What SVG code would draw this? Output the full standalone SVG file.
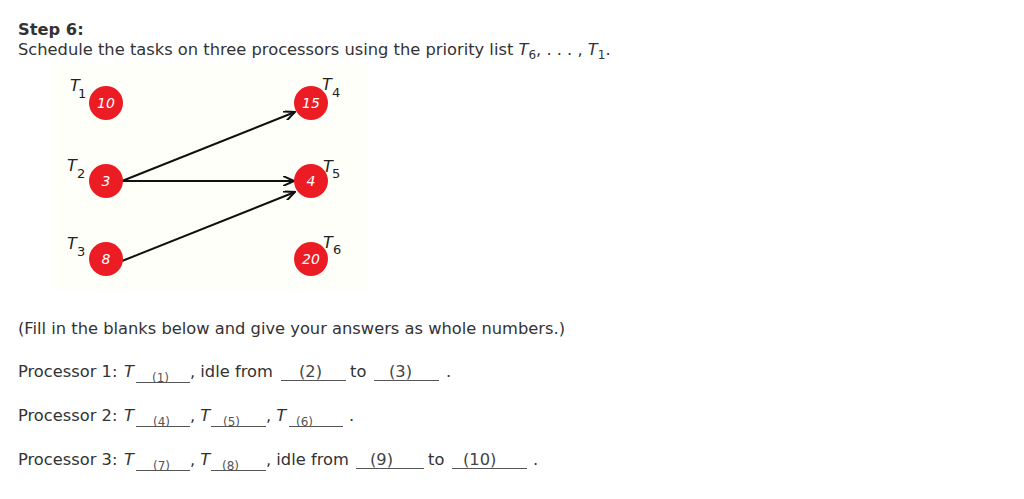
<svg xmlns="http://www.w3.org/2000/svg" width="1024" height="499" viewBox="0 0 1024 499">
<style>
.t{font-family:"DejaVu Sans",Verdana,sans-serif;font-size:16.3px;fill:#333}
.b{font-weight:bold}
.i{font-style:italic}
.sm{font-size:12px;fill:#555}
.bl{font-size:16.3px;fill:#444}
.ul{stroke:#555;stroke-width:1}
.node circle{fill:#ec1c24}
.num{font-family:"DejaVu Sans",sans-serif;font-size:14px;fill:#fff;text-anchor:middle;font-style:italic}
.lab{font-family:"DejaVu Sans",sans-serif;font-size:16px;fill:#222;font-style:italic}
.sub{font-family:"DejaVu Sans",sans-serif;font-size:13px;fill:#222}
.edge{stroke:#111;stroke-width:2;fill:none;marker-end:url(#ah)}
</style>
<defs>
<marker id="ah" viewBox="0 0 12 10" refX="11" refY="5" markerWidth="6" markerHeight="5" orient="auto" markerUnits="strokeWidth">
<path d="M0,0 L11,5 L0,10" fill="none" stroke="#111" stroke-width="2"/>
</marker>
</defs>
<rect width="1024" height="499" fill="#fff"/>
<text class="t b" x="18" y="35">Step 6:</text>
<text class="t" x="18" y="55">Schedule the tasks on three processors using the priority list <tspan class="i">T</tspan><tspan font-size="12" dy="4">6</tspan><tspan dy="-4">, . . . , </tspan><tspan class="i">T</tspan><tspan font-size="12" dy="4">1</tspan><tspan dy="-4">.</tspan></text>
<rect x="50" y="64" width="318" height="226" fill="#fffffa"/>
<g id="connectors">
<line class="edge" x1="122" y1="181" x2="295" y2="112"/>
<line class="edge" x1="122" y1="181" x2="294" y2="181"/>
<line class="edge" x1="122" y1="261" x2="295" y2="192"/>
</g>
<g id="T1" class="node"><circle cx="106" cy="103" r="17"/><text class="num" x="106" y="108">10</text><text class="lab" x="70" y="91">T</text><text class="sub" x="78" y="98">1</text></g>
<g id="T2" class="node"><circle cx="106" cy="181" r="17"/><text class="num" x="106" y="186">3</text><text class="lab" x="67" y="171">T</text><text class="sub" x="77" y="178">2</text></g>
<g id="T3" class="node"><circle cx="106" cy="259" r="17"/><text class="num" x="106" y="264">8</text><text class="lab" x="67" y="249">T</text><text class="sub" x="77" y="256">3</text></g>
<g id="T4" class="node"><circle cx="311" cy="103" r="17"/><text class="num" x="311" y="108">15</text><text class="lab" x="322" y="90">T</text><text class="sub" x="332" y="97">4</text></g>
<g id="T5" class="node"><circle cx="311" cy="181" r="17"/><text class="num" x="311" y="186">4</text><text class="lab" x="323" y="172">T</text><text class="sub" x="332" y="178">5</text></g>
<g id="T6" class="node"><circle cx="311" cy="259" r="17"/><text class="num" x="311" y="264">20</text><text class="lab" x="323" y="248">T</text><text class="sub" x="333" y="254">6</text></g>
<text class="t" x="18" y="334">(Fill in the blanks below and give your answers as whole numbers.)</text>
<g id="p1">
<text class="t" x="18" y="377">Processor 1:</text><text class="t i" x="124" y="377">T</text>
<line class="ul" x1="136" y1="382.5" x2="190" y2="382.5"/><text class="t sm" x="152" y="382">(1)</text>
<text class="t" x="190" y="377">, idle from</text>
<line class="ul" x1="281" y1="380.5" x2="346" y2="380.5"/><text class="t bl" x="299" y="377">(2)</text>
<text class="t" x="350" y="377">to</text>
<line class="ul" x1="374" y1="380.5" x2="439" y2="380.5"/><text class="t bl" x="389" y="377">(3)</text>
<text class="t" x="446" y="377">.</text>
</g>
<g id="p2">
<text class="t" x="18" y="421">Processor 2:</text><text class="t i" x="124" y="421">T</text>
<line class="ul" x1="136" y1="426.5" x2="190" y2="426.5"/><text class="t sm" x="153" y="426">(4)</text>
<text class="t" x="190" y="421">, <tspan class="i">T</tspan></text>
<line class="ul" x1="211" y1="426.5" x2="266" y2="426.5"/><text class="t sm" x="223" y="426">(5)</text>
<text class="t" x="266" y="421">, <tspan class="i">T</tspan></text>
<line class="ul" x1="289" y1="426.5" x2="343" y2="426.5"/><text class="t sm" x="296" y="426">(6)</text>
<text class="t" x="349" y="421">.</text>
</g>
<g id="p3">
<text class="t" x="18" y="465">Processor 3:</text><text class="t i" x="124" y="465">T</text>
<line class="ul" x1="136" y1="470.5" x2="190" y2="470.5"/><text class="t sm" x="153" y="470">(7)</text>
<text class="t" x="190" y="465">, <tspan class="i">T</tspan></text>
<line class="ul" x1="211" y1="470.5" x2="266" y2="470.5"/><text class="t sm" x="222" y="470">(8)</text>
<text class="t" x="266" y="465">, idle from</text>
<line class="ul" x1="356" y1="468.5" x2="424" y2="468.5"/><text class="t bl" x="370" y="465">(9)</text>
<text class="t" x="428" y="465">to</text>
<line class="ul" x1="452" y1="468.5" x2="527" y2="468.5"/><text class="t bl" x="463" y="465">(10)</text>
<text class="t" x="533" y="465">.</text>
</g>
</svg>
